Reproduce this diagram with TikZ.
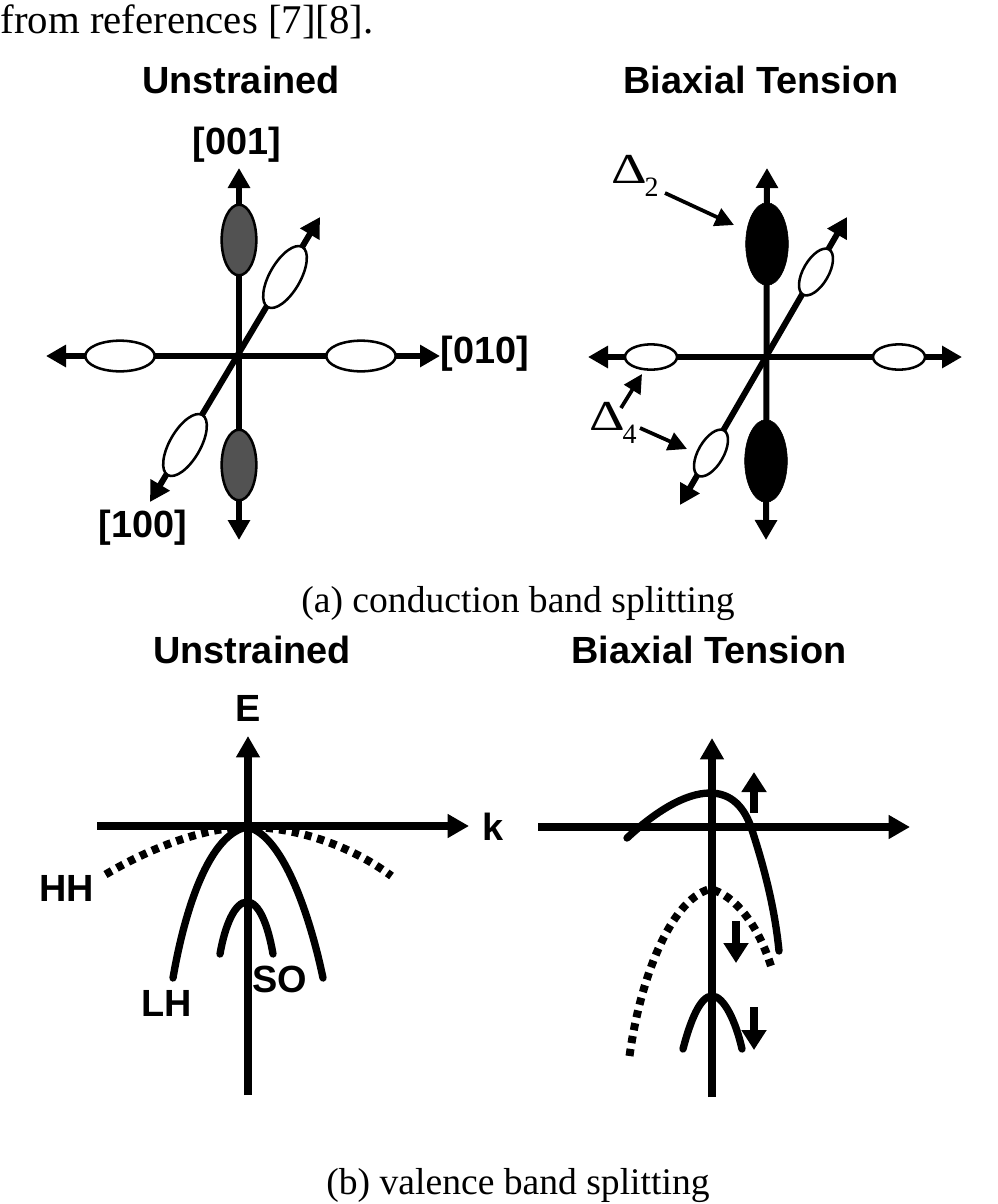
\documentclass[tikz,border=0pt]{standalone}
\usepackage{fontspec}
\setmainfont{Liberation Serif}
\setsansfont{Liberation Sans}
\usetikzlibrary{arrows.meta,shapes.geometric}
\begin{document}
\begin{tikzpicture}
                [x=0.75pt, y=-0.75pt,
                 title/.style={inner sep=0pt, font=\sffamily\bfseries\fontsize{28.4}{32}\selectfont},
                 caption/.style={inner sep=0pt, font=\rmfamily\fontsize{28.2}{32}\selectfont},
                 delta/.style={inner sep=0pt, font=\rmfamily\fontsize{32}{36}\selectfont},
                 axis/.style={draw, line width=4.5pt, {Triangle[length=15pt,width=16pt]}-{Triangle[length=15pt,width=16pt]}},
                 bigaxis/.style={draw, line width=5.5pt, -{Triangle[length=16pt,width=17pt]}},
                 pointer/.style={draw, line width=2.8pt, -{Triangle[length=14pt,width=14pt]}},
                 shift arrow/.style={draw, line width=6pt, -{Triangle[length=15pt,width=18pt]}},
                 band/.style={draw, line width=5.5pt, line cap=round},
                 hh band/.style={draw, line width=6pt, dash pattern=on 5.4pt off 4.4pt},
                 valley/.style={ellipse, draw, line width=1.9pt, fill=white, inner sep=0pt, minimum width=52pt, minimum height=23pt},
                 dark valley/.style={ellipse, draw, line width=1.9pt, fill=black!68, inner sep=0pt, minimum width=26pt, minimum height=53pt},
                 small valley/.style={ellipse, draw, line width=1.9pt, fill=white, inner sep=0pt, minimum width=39pt, minimum height=19pt},
                 black valley/.style={ellipse, draw, fill=black, inner sep=0pt, minimum width=32pt, minimum height=62pt}]
                \useasboundingbox (0,0) rectangle (998,1204);
                % Define text
                \node[caption, anchor=base west, font=\rmfamily\fontsize{30.6}{32}\selectfont] (Head) at (0.5,33) {from references [7][8].};
                \node[title] (Title 1) at (241,80) {Unstrained};
                \node[title] (Title 2) at (761,80) {Biaxial Tension};
                \node[title] (Dir 001) at (237,145) {[001]};
                \node[title] (Dir 010) at (485,354) {[010]};
                \node[title] (Dir 100) at (143,528) {[100]};
                \node[caption] (Caption a) at (518,604) {(a) conduction band splitting};
                \node[title] (Title 3) at (252,650) {Unstrained};
                \node[title] (Title 4) at (709,650) {Biaxial Tension};
                \node[title] (E) at (248,708) {E};
                \node[title] (k) at (493,827) {k};
                \node[title] (HH) at (67,888) {HH};
                \node[title] (LH) at (167,1003) {LH};
                \node[title] (SO) at (280,979) {SO};
                \node[caption] (Caption b) at (518,1185) {(b) valence band splitting};
                \node[delta] (D2) at (635,176) {\scalebox{1.3}[1]{Δ}\hspace{-2pt}\raisebox{-10pt}{\fontsize{21}{22}\selectfont 2}};
                \node[delta] (D4) at (613,423) {\scalebox{1.3}[1]{Δ}\hspace{-2pt}\raisebox{-10pt}{\fontsize{21}{22}\selectfont 4}};
                % Define axis ends
                \coordinate (a1) at (239,540);
                \coordinate (a2) at (239,168);
                \coordinate (a3) at (46,356);
                \coordinate (a4) at (440,356);
                \coordinate (a5) at (150,502);
                \coordinate (a6) at (320,217);
                \coordinate (b1) at (766,540);
                \coordinate (b2) at (767,168);
                \coordinate (b3) at (588,357);
                \coordinate (b4) at (962,357);
                \coordinate (b5) at (680,505);
                \coordinate (b6) at (847,217);
                \coordinate (c1) at (248,1095);
                \coordinate (c2) at (248,736);
                \coordinate (c3) at (97,826);
                \coordinate (c4) at (469,826);
                \coordinate (d1) at (712,1097);
                \coordinate (d2) at (712,738);
                \coordinate (d3) at (538,827);
                \coordinate (d4) at (910,827);
                % Define axes
                \draw[axis] (a1) -- (a2);
                \draw[axis] (a3) -- (a4);
                \draw[axis] (a5) -- (a6);
                \draw[axis] (b1) -- (b2);
                \draw[axis] (b3) -- (b4);
                \draw[axis] (b5) -- (b6);
                \draw[bigaxis] (c1) -- (c2);
                \draw[bigaxis] (c3) -- (c4);
                \draw[bigaxis] (d1) -- (d2);
                \draw[bigaxis] (d3) -- (d4);
                % Define valleys
                \node[dark valley] (V1) at (239,240) {};
                \node[dark valley] (V2) at (239,465) {};
                \node[valley] (V3) at (120,356) {};
                \node[valley] (V4) at (361,356) {};
                \node[valley, rotate=60] (V5) at (285,277) {};
                \node[valley, rotate=60] (V6) at (185,445) {};
                \node[black valley] (W1) at (767,244) {};
                \node[black valley] (W2) at (766,461) {};
                \node[small valley] (W3) at (651,357) {};
                \node[small valley] (W4) at (899,357) {};
                \node[small valley, rotate=60] (W5) at (816,272) {};
                \node[small valley, rotate=60] (W6) at (711,453) {};
                % Define pointers
                \coordinate (p1) at (665,193);
                \coordinate (q1) at (734,225);
                \coordinate (p2) at (621,408);
                \coordinate (q2) at (642,374);
                \coordinate (p3) at (640,428);
                \coordinate (q3) at (687,449);
                \draw[pointer] (p1) -- (q1);
                \draw[pointer] (p2) -- (q2);
                \draw[pointer] (p3) -- (q3);
                % Define bands
                \draw[hh band] (105.5,874.5) .. controls (150,848) and (205,827) .. (248,827) .. controls (295,827) and (350,845) .. (391.5,876);
                \draw[band] (173,978) .. controls (182,925) and (205,835) .. (247,827) .. controls (285,835) and (312,925) .. (323,978);
                \draw[band] (220,954) .. controls (225,925) and (235,902) .. (247,902) .. controls (259,902) and (268,925) .. (273,954);
                \draw[band] (627,838) .. controls (655,812) and (685,793) .. (710,793) .. controls (732,793) and (745,808) .. (752,830) .. controls (765,870) and (775,910) .. (779,951);
                \draw[hh band] (629.5,1056) .. controls (640,980) and (670,900) .. (710,889) .. controls (735,895) and (758,925) .. (771,966);
                \draw[band] (683,1049) .. controls (690,1022) and (700,996) .. (712,996) .. controls (724,996) and (736,1022) .. (742,1049);
                % Define shift arrows
                \coordinate (s1) at (754,813);
                \coordinate (t1) at (754,772);
                \coordinate (s2) at (736,921);
                \coordinate (t2) at (736,963);
                \coordinate (s3) at (754,1007);
                \coordinate (t3) at (754,1050);
                \draw[shift arrow] (s1) -- (t1);
                \draw[shift arrow] (s2) -- (t2);
                \draw[shift arrow] (s3) -- (t3);
\end{tikzpicture}
\end{document}
